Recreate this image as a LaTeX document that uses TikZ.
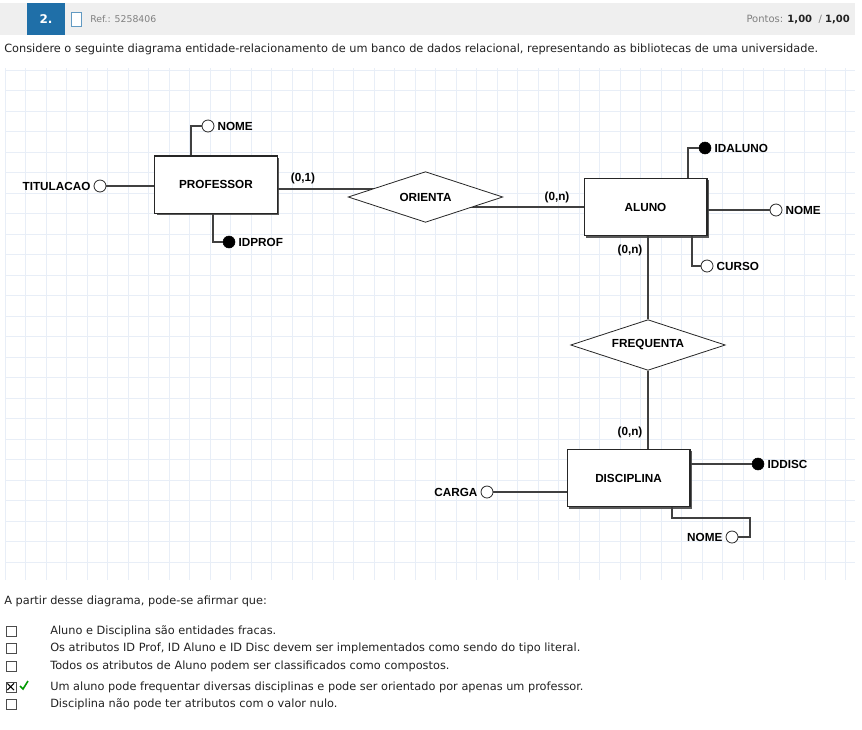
\documentclass[tikz,border=0pt]{standalone}
\usepackage{fontspec}
\setmainfont{DejaVu Sans}
\newfontfamily\arl{Liberation Sans}
\usetikzlibrary{shapes.geometric,shadows}
\definecolor{gridc}{HTML}{E8EEF7}
\definecolor{hdr}{HTML}{EFEFEF}
\definecolor{qblue}{HTML}{1F6FA8}
\definecolor{txt}{HTML}{222222}
\begin{document}
\begin{tikzpicture}[x=0.75pt,y=-0.75pt,
  ent/.style={draw=black!85,line width=1pt,fill=white,minimum width=92pt,minimum height=43pt,font=\arl\bfseries\fontsize{8.8}{9}\selectfont,drop shadow={shadow xshift=1.5pt,shadow yshift=-1.5pt,fill=black!65,opacity=1}},
  rel/.style={draw=black!85,line width=0.6pt,fill=white,diamond,aspect=3.05,inner sep=0pt,font=\arl\bfseries\fontsize{8.8}{9}\selectfont},
  att/.style={circle,draw=black!85,line width=0.6pt,fill=white,minimum size=9pt,inner sep=0pt},
  key/.style={circle,draw,thin,fill=black,minimum size=9pt,inner sep=0pt},
  lbl/.style={font=\arl\bfseries\fontsize{8.8}{9}\selectfont,inner sep=1pt},
  ln/.style={draw,line width=0.8pt,black!75},
  body/.style={font=\fontsize{8.5}{10}\selectfont,text=txt,anchor=west,inner sep=0pt},
  box/.style={draw,thin,black!70,minimum size=7.5pt,inner sep=0pt}]
\useasboundingbox (0,0) rectangle (862,729);
\fill[white] (0,0) rectangle (862,729);
% header
\fill[hdr] (0,3) rectangle (855,35);
\fill[qblue] (27,3) rectangle (65,35);
\node[text=white,font=\bfseries\fontsize{9}{10}\selectfont] (qn) at (46,19) {2.};
\draw[qblue!70,fill=white] (71,12) rectangle (81,26);
\node[body,text=gray,font=\fontsize{7}{8}\selectfont] (ref) at (90,19) {Ref.: 5258406};
\node[anchor=east,inner sep=0pt,font=\fontsize{7.5}{8}\selectfont,text=gray] (pts) at (850,19) {Pontos: \textcolor{txt}{\textbf{1,00}} \ / \textcolor{txt}{\textbf{1,00}}};
\node[body] (intro) at (4,49) {Considere o seguinte diagrama entidade-relacionamento de um banco de dados relacional, representando as bibliotecas de uma universidade.};
% grid
\begin{scope}
\clip (5,68) rectangle (855,580);
\foreach \i in {0,...,42} {\draw[gridc] (5+20.5*\i,68) -- (5+20.5*\i,580);}
\foreach \j in {0,...,25} {\draw[gridc] (5,70+20.5*\j) -- (855,70+20.5*\j);}
\end{scope}
% entities
\node[ent] (prof) at (216,184.5) {PROFESSOR};
\node[ent] (aluno) at (645.5,207) {ALUNO};
\node[ent] (disc) at (628.5,478) {DISCIPLINA};
% lines beneath diamonds
\coordinate (o1) at (400,189);
\draw[ln] (prof.east |- o1) -- (o1);
\coordinate (o2) at (450,207);
\draw[ln] (o2) -- (aluno.west |- o2);
\node[rel,minimum width=116pt,minimum height=38pt] (ori) at (425.5,197) {ORIENTA};
\node[rel,minimum width=116pt,minimum height=38pt] (freq) at (648,345) {FREQUENTA};
% attributes
\node[att] (pnome) at (208,126) {};
\node[lbl,anchor=west] (pnomel) at (216,126) {NOME};
\node[att] (tit) at (100,186) {};
\node[lbl,anchor=east] (titl) at (92,186) {TITULACAO};
\node[key] (idprof) at (229,242) {};
\node[lbl,anchor=west] (idprofl) at (237,242) {IDPROF};
\node[key] (idal) at (705,148) {};
\node[lbl,anchor=west] (idall) at (713,148) {IDALUNO};
\node[att] (anome) at (776,210) {};
\node[lbl,anchor=west] (anomel) at (784,210) {NOME};
\node[att] (curso) at (707,266) {};
\node[lbl,anchor=west] (cursol) at (715,266) {CURSO};
\node[key] (iddisc) at (758,464) {};
\node[lbl,anchor=west] (iddiscl) at (766,464) {IDDISC};
\node[att] (carga) at (487,492) {};
\node[lbl,anchor=east] (cargal) at (479,492) {CARGA};
\node[att] (dnome) at (732,537) {};
\node[lbl,anchor=east] (dnomel) at (724,537) {NOME};
% connectors
\draw[ln] (prof.north -| 191,0) |- (pnome);
\draw[ln] (tit) -- (tit -| prof.west);
\draw[ln] (prof.south -| 213,0) |- (idprof);
\draw[ln] (aluno.north -| 688,0) |- (idal);
\draw[ln] (anome -| aluno.east) -- (anome);
\draw[ln] (aluno.south -| 692,0) |- (curso);
\draw[ln] (iddisc -| disc.east) -- (iddisc);
\draw[ln] (carga) -- (carga -| disc.west);
\draw[ln] (disc.south -| 672,0) -- (672,518) -- (750,518) -- (750,537) -- (dnome);
\draw[ln] (aluno.south -| freq.north) -- (freq.north);
\draw[ln] (freq.south) -- (freq.south |- disc.north);
\node[lbl] (c1) at (303,178) {(0,1)};
\node[lbl] (c2) at (557,197) {(0,n)};
\node[lbl] (c3) at (630,250) {(0,n)};
\node[lbl] (c4) at (630,432) {(0,n)};
% question
\node[body] (q) at (4,601) {A partir desse diagrama, pode-se afirmar que:};
\node[box] (b1) at (11,631) {};
\node[box] (b2) at (11,648) {};
\node[box] (b3) at (11,666) {};
\node[box] (b4) at (11,687) {};
\draw[thick] (b4.north west) ++(1.3pt,-1.3pt) -- ++(4.9pt,-4.9pt) ++(0,4.9pt) -- ++(-4.9pt,-4.9pt);
\node[box] (b5) at (11,704) {};
\draw[green!60!black,very thick] (20,686) -- (23,689) -- (28,681);
\node[body] (a1) at (50,631) {Aluno e Disciplina são entidades fracas.};
\node[body] (a2) at (50,648) {Os atributos ID Prof, ID Aluno e ID Disc devem ser implementados como sendo do tipo literal.};
\node[body] (a3) at (50,666) {Todos os atributos de Aluno podem ser classificados como compostos.};
\node[body] (a4) at (50,687) {Um aluno pode frequentar diversas disciplinas e pode ser orientado por apenas um professor.};
\node[body] (a5) at (50,704) {Disciplina não pode ter atributos com o valor nulo.};
\end{tikzpicture}
\end{document}
